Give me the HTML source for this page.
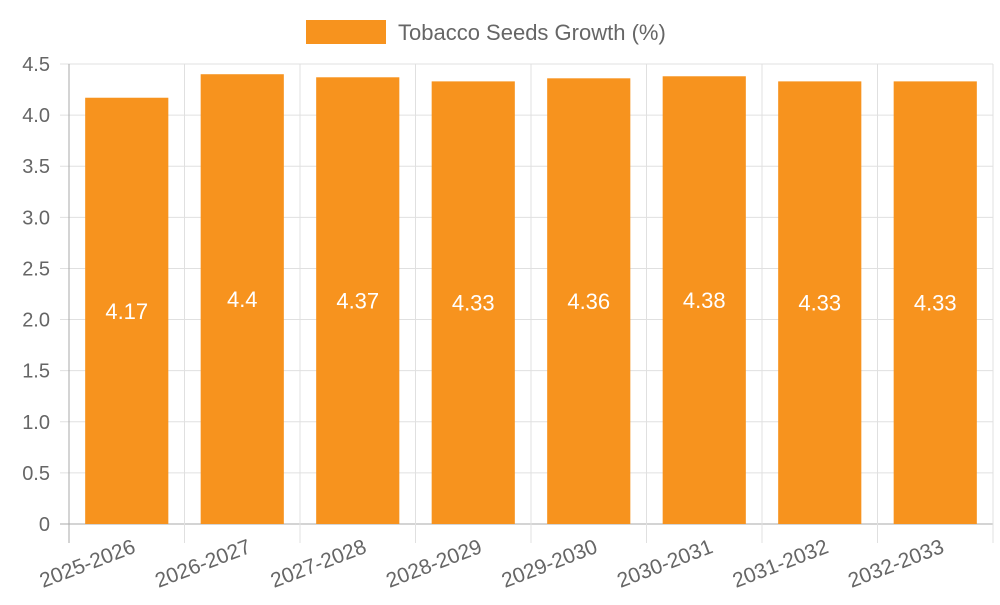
<!DOCTYPE html>
<html><head><meta charset="utf-8"><style>
body{margin:0;background:#fff;font-family:"Liberation Sans",sans-serif}
</style></head><body>
<svg id="chart" width="1000" height="600" xmlns="http://www.w3.org/2000/svg" font-family="Liberation Sans, sans-serif">
<g id="legend">
<rect x="306" y="20" width="80" height="24" fill="#f7931e"/>
<text x="398" y="40" font-size="22" fill="#666">Tobacco Seeds Growth (%)</text>
</g>
<g id="grid"></g><g id="bars"></g><g id="labels"></g>
</svg>
<script>
const categories=["2025-2026","2026-2027","2027-2028","2028-2029","2029-2030","2030-2031","2031-2032","2032-2033"];
const values=[4.17,4.4,4.37,4.33,4.36,4.38,4.33,4.33];
const yTicks=[0,0.5,1.0,1.5,2.0,2.5,3.0,3.5,4.0,4.5];
const yTickLabels=["0","0.5","1.0","1.5","2.0","2.5","3.0","3.5","4.0","4.5"];
const NS="http://www.w3.org/2000/svg";
const L=69,R=993,T=64,B=524,YMAX=4.5;
const y=v=>B-(v/YMAX)*(B-T);
const bw=(R-L)/categories.length;
const x=i=>L+i*bw;
function mk(t,a,p){const e=document.createElementNS(NS,t);for(const k in a)e.setAttribute(k,a[k]);p.appendChild(e);return e;}
const g=document.getElementById('grid'),bars=document.getElementById('bars'),lab=document.getElementById('labels');
yTicks.forEach((v,i)=>{
 const ln=mk('line',{x1:60,x2:R,y1:y(v),y2:y(v),stroke:v===0?'#aaa':'#e0e0e0','stroke-width':1},g);
 
 
 const t=mk('text',{x:50,y:y(v)+7,'text-anchor':'end','font-size':20,fill:'#666'},g);
 t.textContent=yTickLabels[i];
 
 
});
for(let i=0;i<=categories.length;i++){
 const ln=mk('line',{x1:x(i),x2:x(i),y1:T,y2:B+19,stroke:i===0?'#aaa':'#e0e0e0','stroke-width':1},g);
 
 
}
categories.forEach((c,i)=>{
 const w=bw*0.72,bx=x(i)+(bw-w)/2;
 const r=mk('rect',{x:bx,y:y(values[i]),width:w,height:B-y(values[i]),fill:'#f7931e'},bars);
 
 
 const t=mk('text',{x:x(i)+bw/2,y:(y(values[i])+B)/2+8,'text-anchor':'middle','font-size':22,fill:'#fff'},lab);
 t.textContent=String(values[i]);
 
 
 const cx=x(i)+bw/2+10,cy=B+28;
 const xl=mk('text',{x:cx,y:cy,'text-anchor':'end','font-size':21,fill:'#666',transform:`rotate(-21 ${cx} ${cy})`},lab);
 xl.textContent=c;
 
 
});
</script>
</body></html>
